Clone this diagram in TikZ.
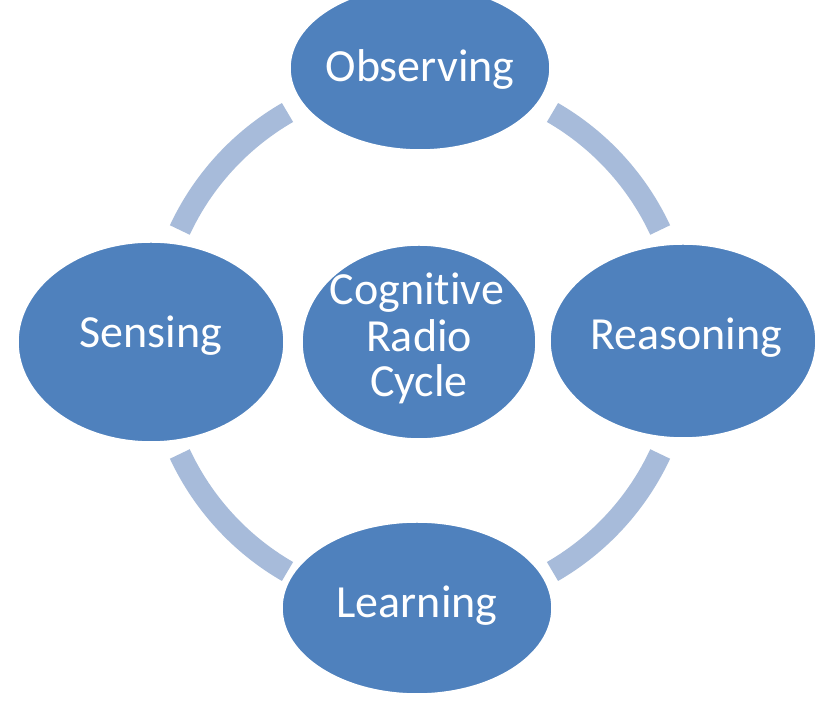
\documentclass[tikz,border=0pt]{standalone}
\usepackage{fontspec}
\setmainfont{Carlito}[Ligatures=NoCommon]
\usetikzlibrary{shapes.geometric,calc}
\definecolor{nodeblue}{RGB}{79,129,189}
\definecolor{arcblue}{RGB}{167,187,218}
\tikzset{
  blob/.style={ellipse, fill=nodeblue, draw=white, line width=1.5pt, inner sep=0pt, outer sep=0pt},
  lbl/.style={anchor=base, text=white, inner sep=0pt, font=\fontsize{46}{46}\selectfont},
  ring/.style={draw=arcblue, line width=22pt}
}
\begin{document}
\begin{tikzpicture}[x=1pt,y=1pt]
\clip (0,0) rectangle (820,720);
\fill[white] (0,0) rectangle (820,720);
% ring segments
\coordinate (c) at (420,378);
\draw[ring] ($(c)+(25:265)$) arc[start angle=25, end angle=60, radius=265];
\draw[ring] ($(c)+(120:265)$) arc[start angle=120, end angle=155, radius=265];
\draw[ring] ($(c)+(205:265)$) arc[start angle=205, end angle=240, radius=265];
\draw[ring] ($(c)+(300:265)$) arc[start angle=300, end angle=335, radius=265];
% ellipses
\node[blob, minimum width=260pt, minimum height=164pt] (obs) at (420,652) {};
\node[blob, minimum width=266pt, minimum height=200pt] (sen) at (151,378) {};
\node[blob, minimum width=234pt, minimum height=194pt] (cen) at (419,378) {};
\node[blob, minimum width=266pt, minimum height=194pt] (rea) at (683,379) {};
\node[blob, minimum width=270pt, minimum height=172pt] (lea) at (417,112) {};
% labels
\node[lbl] (tobs) at (420,638) {Observing};
\node[lbl] (tsen) at (151,372) {Sensing};
\node[lbl] (trea) at (686,370) {Reasoning};
\node[lbl] (tlea) at (417,102) {Learning};
\node[lbl] (tc1) at (417,415) {Cognitive};
\node[lbl] (tc2) at (419,368) {Radio};
\node[lbl] (tc3) at (419,323) {Cycle};
\end{tikzpicture}
\end{document}
